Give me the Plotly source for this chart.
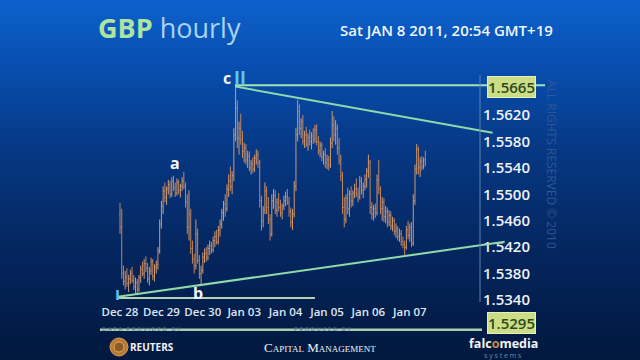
import plotly.graph_objects as go

# ---------------- data ----------------
days = ["Dec 28", "Dec 29", "Dec 30", "Jan 03", "Jan 04", "Jan 05", "Jan 06", "Jan 07"]
bars_per_day = 24

opens = [
    1.5470, 1.5450, 1.5380, 1.5368, 1.5375, 1.5365, 1.5372, 1.5380, 1.5370, 1.5360,
    1.5366, 1.5356, 1.5374, 1.5386, 1.5380, 1.5395, 1.5388, 1.5372, 1.5384, 1.5398,
    1.5376, 1.5390, 1.5394, 1.5415, 1.5455, 1.5482, 1.5505, 1.5495, 1.5508, 1.5515,
    1.5500, 1.5520, 1.5510, 1.5502, 1.5518, 1.5506, 1.5512, 1.5520, 1.5512, 1.5488,
    1.5450, 1.5470, 1.5418, 1.5402, 1.5392, 1.5440, 1.5400, 1.5380, 1.5385, 1.5405,
    1.5410, 1.5404, 1.5418, 1.5422, 1.5416, 1.5430, 1.5436, 1.5428, 1.5446, 1.5455,
    1.5472, 1.5485, 1.5478, 1.5508, 1.5520, 1.5512, 1.5528, 1.5590, 1.5630, 1.5585,
    1.5600, 1.5582, 1.5565, 1.5570, 1.5552, 1.5558, 1.5540, 1.5546, 1.5538, 1.5555,
    1.5560, 1.5548, 1.5490, 1.5460, 1.5476, 1.5505, 1.5480, 1.5462, 1.5440, 1.5490,
    1.5498, 1.5476, 1.5488, 1.5480, 1.5472, 1.5482, 1.5490, 1.5496, 1.5488, 1.5474,
    1.5458, 1.5470, 1.5512, 1.5590, 1.5625, 1.5600, 1.5610, 1.5580, 1.5590, 1.5576,
    1.5586, 1.5580, 1.5588, 1.5584, 1.5598, 1.5580, 1.5566, 1.5574, 1.5556, 1.5560,
    1.5548, 1.5552, 1.5544, 1.5578, 1.5605, 1.5590, 1.5600, 1.5570, 1.5552, 1.5528,
    1.5480, 1.5462, 1.5494, 1.5478, 1.5500, 1.5490, 1.5502, 1.5508, 1.5500, 1.5496,
    1.5520, 1.5506, 1.5512, 1.5522, 1.5535, 1.5548, 1.5480, 1.5470, 1.5478, 1.5472,
    1.5522, 1.5508, 1.5478, 1.5488, 1.5466, 1.5474, 1.5458, 1.5468, 1.5452, 1.5460,
    1.5444, 1.5448, 1.5436, 1.5440, 1.5428, 1.5424, 1.5420, 1.5446, 1.5438, 1.5450,
    1.5426, 1.5490, 1.5538, 1.5568, 1.5540, 1.5550, 1.5542, 1.5552,
]
highs = [
    1.5487, 1.5478, 1.5392, 1.5384, 1.5388, 1.5378, 1.5386, 1.5390, 1.5378, 1.5374,
    1.5372, 1.5378, 1.5392, 1.5398, 1.5402, 1.5406, 1.5396, 1.5390, 1.5404, 1.5402,
    1.5394, 1.5400, 1.5420, 1.5462, 1.5490, 1.5512, 1.5518, 1.5512, 1.5522, 1.5520,
    1.5526, 1.5528, 1.5518, 1.5524, 1.5522, 1.5516, 1.5526, 1.5534, 1.5518, 1.5500,
    1.5506, 1.5478, 1.5430, 1.5410, 1.5462, 1.5448, 1.5408, 1.5392, 1.5412, 1.5418,
    1.5420, 1.5424, 1.5430, 1.5428, 1.5436, 1.5444, 1.5446, 1.5452, 1.5462, 1.5478,
    1.5490, 1.5500, 1.5515, 1.5530, 1.5542, 1.5535, 1.5600, 1.5664, 1.5642, 1.5610,
    1.5622, 1.5596, 1.5578, 1.5576, 1.5566, 1.5565, 1.5552, 1.5556, 1.5560, 1.5568,
    1.5566, 1.5552, 1.5498, 1.5482, 1.5518, 1.5512, 1.5496, 1.5470, 1.5500, 1.5508,
    1.5506, 1.5494, 1.5502, 1.5492, 1.5486, 1.5498, 1.5504, 1.5508, 1.5496, 1.5480,
    1.5478, 1.5520, 1.5600, 1.5643, 1.5636, 1.5615, 1.5620, 1.5596, 1.5602, 1.5592,
    1.5598, 1.5594, 1.5600, 1.5605, 1.5606, 1.5588, 1.5580, 1.5578, 1.5566, 1.5570,
    1.5560, 1.5558, 1.5586, 1.5626, 1.5618, 1.5612, 1.5606, 1.5585, 1.5560, 1.5534,
    1.5496, 1.5500, 1.5510, 1.5506, 1.5512, 1.5506, 1.5516, 1.5524, 1.5510, 1.5528,
    1.5526, 1.5518, 1.5530, 1.5540, 1.5560, 1.5552, 1.5488, 1.5484, 1.5486, 1.5530,
    1.5552, 1.5512, 1.5496, 1.5494, 1.5482, 1.5480, 1.5476, 1.5474, 1.5466, 1.5464,
    1.5456, 1.5452, 1.5448, 1.5446, 1.5436, 1.5430, 1.5452, 1.5460, 1.5456, 1.5458,
    1.5500, 1.5545, 1.5576, 1.5572, 1.5556, 1.5558, 1.5556, 1.5566,
]
lows = [
    1.5440, 1.5372, 1.5362, 1.5356, 1.5360, 1.5352, 1.5364, 1.5366, 1.5355, 1.5350,
    1.5348, 1.5352, 1.5366, 1.5376, 1.5372, 1.5382, 1.5366, 1.5362, 1.5378, 1.5370,
    1.5368, 1.5380, 1.5386, 1.5410, 1.5448, 1.5470, 1.5488, 1.5484, 1.5500, 1.5494,
    1.5496, 1.5505, 1.5496, 1.5498, 1.5500, 1.5495, 1.5505, 1.5508, 1.5480, 1.5440,
    1.5430, 1.5410, 1.5395, 1.5380, 1.5386, 1.5395, 1.5372, 1.5364, 1.5380, 1.5396,
    1.5398, 1.5400, 1.5408, 1.5410, 1.5412, 1.5420, 1.5424, 1.5424, 1.5436, 1.5448,
    1.5460, 1.5466, 1.5474, 1.5496, 1.5505, 1.5500, 1.5520, 1.5580, 1.5570, 1.5560,
    1.5575, 1.5555, 1.5548, 1.5545, 1.5540, 1.5535, 1.5530, 1.5532, 1.5534, 1.5545,
    1.5540, 1.5480, 1.5445, 1.5450, 1.5470, 1.5470, 1.5455, 1.5430, 1.5436, 1.5478,
    1.5470, 1.5466, 1.5474, 1.5466, 1.5462, 1.5476, 1.5482, 1.5484, 1.5466, 1.5450,
    1.5446, 1.5465, 1.5505, 1.5580, 1.5590, 1.5585, 1.5575, 1.5570, 1.5572, 1.5566,
    1.5574, 1.5568, 1.5576, 1.5578, 1.5574, 1.5560, 1.5556, 1.5550, 1.5545, 1.5540,
    1.5538, 1.5536, 1.5540, 1.5570, 1.5580, 1.5575, 1.5560, 1.5545, 1.5520, 1.5470,
    1.5450, 1.5456, 1.5470, 1.5466, 1.5480, 1.5482, 1.5494, 1.5496, 1.5488, 1.5492,
    1.5500, 1.5494, 1.5506, 1.5510, 1.5525, 1.5470, 1.5462, 1.5460, 1.5464, 1.5468,
    1.5500, 1.5470, 1.5460, 1.5458, 1.5456, 1.5450, 1.5452, 1.5446, 1.5444, 1.5438,
    1.5434, 1.5430, 1.5428, 1.5422, 1.5418, 1.5408, 1.5416, 1.5432, 1.5428, 1.5420,
    1.5422, 1.5484, 1.5530, 1.5530, 1.5526, 1.5536, 1.5538, 1.5542,
]
closes = [
    1.5450, 1.5380, 1.5368, 1.5375, 1.5365, 1.5372, 1.5380, 1.5370, 1.5360, 1.5366,
    1.5356, 1.5374, 1.5386, 1.5380, 1.5395, 1.5388, 1.5372, 1.5384, 1.5398, 1.5376,
    1.5390, 1.5394, 1.5415, 1.5455, 1.5482, 1.5505, 1.5495, 1.5508, 1.5515, 1.5500,
    1.5520, 1.5510, 1.5502, 1.5518, 1.5506, 1.5512, 1.5520, 1.5512, 1.5488, 1.5450,
    1.5470, 1.5418, 1.5402, 1.5392, 1.5440, 1.5400, 1.5380, 1.5385, 1.5405, 1.5410,
    1.5404, 1.5418, 1.5422, 1.5416, 1.5430, 1.5436, 1.5428, 1.5446, 1.5455, 1.5472,
    1.5485, 1.5478, 1.5508, 1.5520, 1.5512, 1.5528, 1.5590, 1.5630, 1.5585, 1.5600,
    1.5582, 1.5565, 1.5570, 1.5552, 1.5558, 1.5540, 1.5546, 1.5538, 1.5555, 1.5560,
    1.5548, 1.5490, 1.5460, 1.5476, 1.5505, 1.5480, 1.5462, 1.5440, 1.5490, 1.5498,
    1.5476, 1.5488, 1.5480, 1.5472, 1.5482, 1.5490, 1.5496, 1.5488, 1.5474, 1.5458,
    1.5470, 1.5512, 1.5590, 1.5625, 1.5600, 1.5610, 1.5580, 1.5590, 1.5576, 1.5586,
    1.5580, 1.5588, 1.5584, 1.5598, 1.5580, 1.5566, 1.5574, 1.5556, 1.5560, 1.5548,
    1.5552, 1.5544, 1.5578, 1.5605, 1.5590, 1.5600, 1.5570, 1.5552, 1.5528, 1.5480,
    1.5462, 1.5494, 1.5478, 1.5500, 1.5490, 1.5502, 1.5508, 1.5500, 1.5496, 1.5520,
    1.5506, 1.5512, 1.5522, 1.5535, 1.5548, 1.5480, 1.5470, 1.5478, 1.5472, 1.5522,
    1.5508, 1.5478, 1.5488, 1.5466, 1.5474, 1.5458, 1.5468, 1.5452, 1.5460, 1.5444,
    1.5448, 1.5436, 1.5440, 1.5428, 1.5424, 1.5420, 1.5446, 1.5438, 1.5450, 1.5426,
    1.5490, 1.5538, 1.5568, 1.5540, 1.5550, 1.5542, 1.5552, 1.5548,
]

price_ticks = [1.5340, 1.5380, 1.5420, 1.5460, 1.5500, 1.5540, 1.5580, 1.5620]
level_top = 1.5665
level_bottom = 1.5295
level_b = 1.5343
upper_trend_x = [67, 216]
upper_trend_y = [1.5663, 1.5593]
lower_trend_x = [-1.2, 223]
lower_trend_y = [1.5345, 1.5428]

# ---------------- layout geometry ----------------
W, H = 640, 360
X0_PX, BAR_PX = 120.0, 1.725          # pixel of bar 0, pixels per bar
Y_REF_PX, Y_REF_V, PX_PER_UNIT = 300.0, 1.5340, 6607.0

x_range = [(0 - X0_PX) / BAR_PX, (W - X0_PX) / BAR_PX]
y_range = [Y_REF_V - (H - Y_REF_PX) / PX_PER_UNIT, Y_REF_V + Y_REF_PX / PX_PER_UNIT]


def xi(px):
    return (px - X0_PX) / BAR_PX


def px_(x):
    return x / W


def py_(y):
    return 1 - y / H


FONT = "Open Sans"

fig = go.Figure()
idx = list(range(len(closes)))
fig.add_trace(go.Ohlc(
    x=idx, open=opens, high=highs, low=lows, close=closes,
    increasing=dict(line=dict(color="#d09a72", width=1)),
    decreasing=dict(line=dict(color="#c4865e", width=1)),
    tickwidth=0.45, showlegend=False, hoverinfo="skip",
))

shapes = []
# vertical background gradient
stops = [(0, (12, 98, 205)), (60, (8, 80, 178)), (150, (6, 56, 132)),
         (250, (4, 38, 95)), (360, (2, 24, 62))]


def grad(y):
    for (ya, ca), (yb, cb) in zip(stops[:-1], stops[1:]):
        if ya <= y <= yb:
            t = (y - ya) / (yb - ya)
            return "rgb(%d,%d,%d)" % tuple(round(a + (b - a) * t) for a, b in zip(ca, cb))
    return "rgb(%d,%d,%d)" % stops[-1][1]


step = 4
for k in range(0, H, step):
    shapes.append(dict(type="rect", xref="paper", yref="paper", layer="below",
                       x0=0, x1=1, y0=py_(k + step + 0.6), y1=py_(k),
                       fillcolor=grad(k + step / 2), line=dict(width=0)))

green = "#9fe2bb"
# horizontal level lines
shapes.append(dict(type="line", xref="x", yref="y", x0=xi(235), x1=xi(545),
                   y0=level_top, y1=level_top, line=dict(color=green, width=2.2)))
shapes.append(dict(type="line", xref="x", yref="y", x0=xi(100), x1=xi(482),
                   y0=level_bottom, y1=level_bottom, line=dict(color="#a9cdb0", width=2.5)))
shapes.append(dict(type="line", xref="x", yref="y", x0=lower_trend_x[0], x1=113,
                   y0=level_b, y1=level_b, line=dict(color="#b6d2b0", width=2)))
# trend lines
shapes.append(dict(type="line", xref="x", yref="y", x0=upper_trend_x[0], x1=upper_trend_x[1],
                   y0=upper_trend_y[0], y1=upper_trend_y[1], line=dict(color="#8fd9aa", width=2)))
shapes.append(dict(type="line", xref="x", yref="y", x0=lower_trend_x[0], x1=lower_trend_x[1],
                   y0=lower_trend_y[0], y1=lower_trend_y[1], line=dict(color="#8fd9aa", width=2)))
# price axis line
shapes.append(dict(type="line", xref="x", yref="paper", x0=xi(480), x1=xi(480),
                   y0=py_(302), y1=py_(75), line=dict(color="#5f83ad", width=1)))
# Reuters logo
shapes.append(dict(type="circle", xref="paper", yref="paper",
                   x0=px_(110), x1=px_(128), y0=py_(356), y1=py_(338),
                   fillcolor="#b87a34", line=dict(color="#d89a50", width=1)))
shapes.append(dict(type="circle", xref="paper", yref="paper",
                   x0=px_(114), x1=px_(124), y0=py_(352), y1=py_(342),
                   fillcolor="#8a5a28", line=dict(color="#e0a860", width=1)))

anns = []


def ann(text, x, y, size, color, xanchor="center", weight="normal", family=FONT, **kw):
    d = dict(text=text, x=px_(x), y=py_(y), xref="paper", yref="paper",
             xanchor=xanchor, yanchor="middle", showarrow=False,
             font=dict(size=size, color=color, family=family, weight=weight))
    d.update(kw)
    anns.append(d)


ann("<b>GBP</b> <span style='color:#a9d3f2'>hourly</span>", 96, 28, 27, "#aee3a0", xanchor="left")
ann("Sat JAN 8 2011, 20:54 GMT+19", 338, 30, 15, "#f2f6fb", xanchor="left", weight=600)

# wave labels
ann("a", 175, 163, 16, "#f4f6f8", weight="bold")
ann("b", 198, 293, 16, "#f4f6f8", weight="bold")
ann("c", 227, 78, 16, "#f4f6f8", weight="bold")
ann("II", 240, 77, 18, "#5cc6ef", weight="bold")
ann("I", 117, 294, 15, "#5cc6ef", weight="bold")

# level boxes
for v, y in [(level_top, 87), (level_bottom, 323)]:
    ann("%.4f" % v, 511, y, 15, "#2b4a1c", weight=600, bgcolor="#cddd86",
        bordercolor="#e6efb4", borderwidth=1, borderpad=0)

# watermark
ann("ALL RIGHTS RESERVED © 2010", 551, 164, 12, "#2d5893", textangle=90)

# footer
ann("D A T A   P R O V I D E D   B Y", 100, 329, 6, "#4a6990", xanchor="left")
ann("P R O D U C E D   B Y", 322, 329, 6, "#4a6990")
ann("REUTERS", 152, 347, 10, "#f0f2f5", weight="bold")
anns.append(dict(text="Capital Management", x=px_(320), y=py_(347), xref="paper", yref="paper",
                 xanchor="center", yanchor="middle", showarrow=False,
                 font=dict(size=13, color="#f0f2f5", family="Liberation Serif", variant="small-caps")))
ann("falc<span style='color:#d08a3a'>o</span>media", 503, 343, 12.5, "#f2f4f7", weight="bold")
ann("s y s t e m s", 503, 355, 7, "#6f8cae")

fig.update_layout(
    width=W, height=H, margin=dict(l=0, r=0, t=0, b=0),
    paper_bgcolor="#06285f", plot_bgcolor="rgba(0,0,0,0)",
    showlegend=False, shapes=shapes, annotations=anns,
    xaxis=dict(range=x_range, domain=[0, 1], anchor="free", position=py_(303),
               rangeslider=dict(visible=False), showgrid=False, zeroline=False,
               showline=False, ticks="",
               tickvals=[d * bars_per_day for d in range(len(days))], ticktext=days,
               tickfont=dict(family=FONT, size=11.5, color="#dfe7f0", weight=600)),
    yaxis=dict(range=y_range, domain=[0, 1], anchor="free", position=px_(482), side="right",
               showgrid=False, zeroline=False, showline=False, ticks="",
               tickvals=price_ticks, ticktext=["%.4f" % v for v in price_ticks],
               tickfont=dict(family=FONT, size=15, color="#eef3f8", weight=600)),
)

fig.write_html("out.html")
